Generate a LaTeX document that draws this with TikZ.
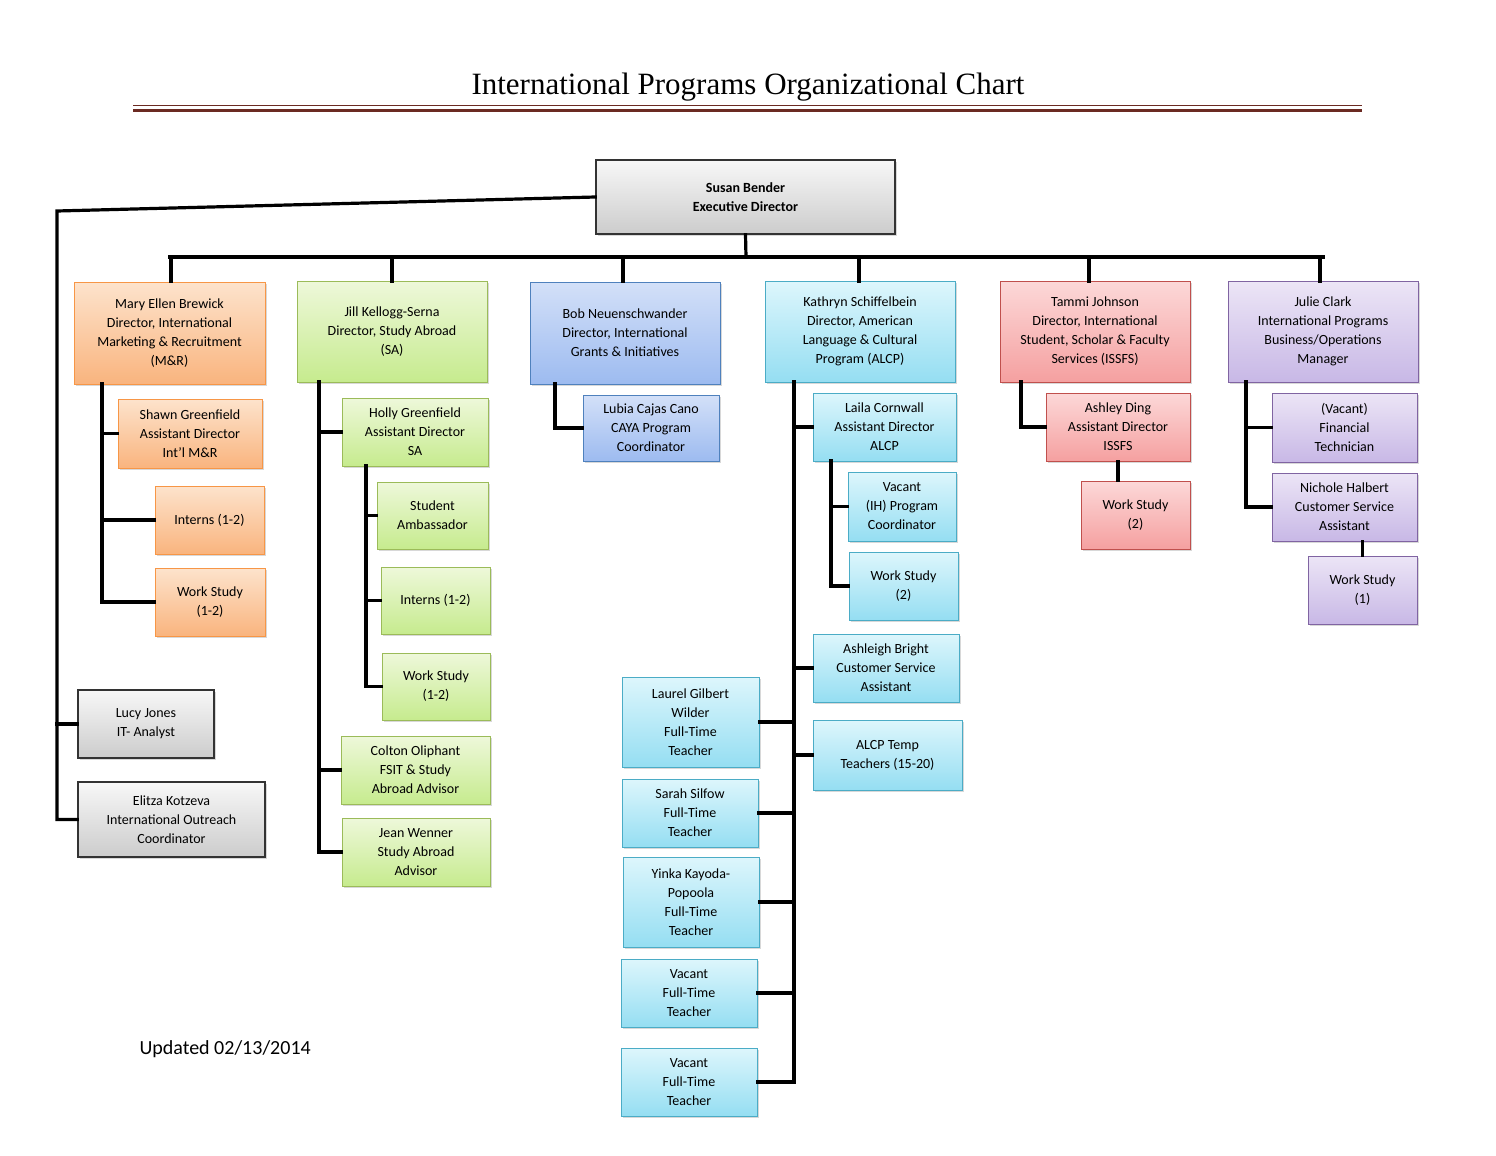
\documentclass[tikz,border=0pt]{standalone}
\usepackage{fontspec}
\setmainfont{Carlito}
\newfontfamily\titlefont{Liberation Serif}
\usetikzlibrary{shadows}
\definecolor{rule}{HTML}{6B2A22}
\definecolor{ogT}{HTML}{FDE3CC}\definecolor{ogB}{HTML}{F9B47E}\definecolor{ogD}{HTML}{F79646}
\definecolor{gnT}{HTML}{EEF8DA}\definecolor{gnB}{HTML}{C6EB8E}\definecolor{gnD}{HTML}{9BBB59}
\definecolor{blT}{HTML}{D3E0F8}\definecolor{blB}{HTML}{9DBBF0}\definecolor{blD}{HTML}{4F81BD}
\definecolor{cyT}{HTML}{DDF6FC}\definecolor{cyB}{HTML}{95DEF2}\definecolor{cyD}{HTML}{4BACC6}
\definecolor{rdT}{HTML}{FCD8D8}\definecolor{rdB}{HTML}{F5A0A0}\definecolor{rdD}{HTML}{C0504D}
\definecolor{puT}{HTML}{ECE5F6}\definecolor{puB}{HTML}{C8B8E6}\definecolor{puD}{HTML}{8064A2}
\tikzset{
 x=1pt,y=-1pt,
 base/.style={draw, line width=0.9pt, inner sep=0pt, align=center, font=\fontsize{14}{19}\selectfont, drop shadow={shadow xshift=2pt,shadow yshift=-2pt,opacity=0.3}},
 og/.style={base, draw=ogD, top color=ogT, bottom color=ogB},
 gn/.style={base, draw=gnD, top color=gnT, bottom color=gnB},
 bl/.style={base, draw=blD, top color=blT, bottom color=blB},
 cy/.style={base, draw=cyD, top color=cyT, bottom color=cyB},
 rd/.style={base, draw=rdD, top color=rdT, bottom color=rdB},
 pu/.style={base, draw=puD, top color=puT, bottom color=puB},
 gy/.style={base, draw=black!80, line width=1.3pt, top color=gray!6, bottom color=gray!40},
 ln/.style={line width=3.2pt, line cap=rect},
}
\newcommand\bx[7]{\node[#2, minimum width={(#5-#3)*1pt}, minimum height={(#6-#4)*1pt}] (#1) at ({(#3+#5)/2},{(#4+#6)/2}) {#7};}
\begin{document}
\begin{tikzpicture}
\useasboundingbox (0,0) rectangle (1496,1156);
\fill[white] (0,0) rectangle (1496,1156);
\node[font=\titlefont\fontsize{31}{36}\selectfont] (title) at (748,87) {International Programs Organizational Chart};
\draw[rule, line width=1pt] (133,105.5) -- (1362,105.5);
\draw[rule, line width=3.5pt] (133,110.5) -- (1362,110.5);
\node[anchor=west, font=\fontsize{20}{22}\selectfont] (upd) at (136,1049) {Updated 02/13/2014};

% top
\bx{susan}{gy}{596}{160}{895}{234}{\textbf{Susan Bender}\\\textbf{Executive Director}}
\bx{mary}{og}{74}{282}{265}{384}{Mary Ellen Brewick\\Director, International\\Marketing \& Recruitment\\(M\&R)}
\bx{jill}{gn}{297}{281}{487}{382}{Jill Kellogg-Serna\\Director, Study Abroad\\(SA)}
\bx{bob}{bl}{530}{282}{720}{384}{Bob Neuenschwander\\Director, International\\Grants \& Initiatives}
\bx{kath}{cy}{765}{281}{955}{382}{Kathryn Schiffelbein\\Director, American\\Language \& Cultural\\Program (ALCP)}
\bx{tammi}{rd}{1000}{281}{1190}{382}{Tammi Johnson\\Director, International\\Student, Scholar \& Faculty\\Services (ISSFS)}
\bx{julie}{pu}{1228}{281}{1418}{382}{Julie Clark\\International Programs\\Business/Operations\\Manager}

\coordinate (bus) at (746,257);
\draw[ln] (susan.south) -- (bus);
\draw[ln] (mary.north |- bus) -- (julie.north |- bus);
\foreach \n/\xx in {mary/171,jill/392,bob/623,kath/859,tammi/1089,julie/1320}
  \draw[ln] (\xx,257) -- (\xx,281);

% left gray
\bx{lucy}{gy}{78}{690}{214}{758}{Lucy Jones\\IT- Analyst}
\bx{elitza}{gy}{78}{782}{265}{857}{Elitza Kotzeva\\International Outreach\\Coordinator}
\coordinate (lt) at (57,211);
\draw[ln] (susan.west) -- (lt) -- (elitza.west -| lt) -- (elitza.west);
\draw[ln] (lucy.west -| lt) -- (lucy.west);

% orange
\bx{shawn}{og}{118}{399}{262}{468}{Shawn Greenfield\\Assistant Director\\Int’l M\&R}
\bx{mint}{og}{155}{486}{264}{554}{Interns (1-2)}
\bx{mws}{og}{155}{568}{265}{636}{Work Study\\(1-2)}
\coordinate (mt) at (102,384);
\draw[ln] (mt) -- (mws.west -| mt) -- (mws.west);
\draw[ln] (shawn.west -| mt) -- (shawn.west);
\draw[ln] (mint.west -| mt) -- (mint.west);

% green
\bx{holly}{gn}{342}{398}{488}{466}{Holly Greenfield\\Assistant Director\\SA}
\bx{colton}{gn}{341}{736}{490}{804}{Colton Oliphant\\FSIT \& Study\\Abroad Advisor}
\bx{jean}{gn}{342}{818}{490}{886}{Jean Wenner\\Study Abroad\\Advisor}
\bx{stud}{gn}{377}{482}{488}{549}{Student\\Ambassador}
\bx{gint}{gn}{381}{567}{490}{634}{Interns (1-2)}
\bx{gws}{gn}{382}{653}{490}{720}{Work Study\\(1-2)}
\coordinate (jt) at (319,382);
\draw[ln] (jt) -- (jean.west -| jt) -- (jean.west);
\draw[ln] (holly.west -| jt) -- (holly.west);
\draw[ln] (colton.west -| jt) -- (colton.west);
\coordinate (ht) at (366,466);
\draw[ln] (ht) -- (gws.west -| ht) -- (gws.west);
\draw[ln] (stud.west -| ht) -- (stud.west);
\draw[ln] (gint.west -| ht) -- (gint.west);

% blue
\bx{lubia}{bl}{583}{395}{719}{461}{Lubia Cajas Cano\\CAYA Program\\Coordinator}
\coordinate (bt) at (555,384);
\draw[ln] (bt) -- (lubia.west -| bt) -- (lubia.west);

% cyan
\bx{laila}{cy}{813}{393}{956}{461}{Laila Cornwall\\Assistant Director\\ALCP}
\bx{ashb}{cy}{813}{634}{959}{702}{Ashleigh Bright\\Customer Service\\Assistant}
\bx{temp}{cy}{813}{720}{962}{790}{ALCP Temp\\Teachers (15-20)}
\bx{cvac}{cy}{848}{472}{956}{541}{Vacant\\(IH) Program\\Coordinator}
\bx{cws}{cy}{849}{552}{958}{620}{Work Study\\(2)}
\bx{laurel}{cy}{622}{677}{759}{767}{Laurel Gilbert\\Wilder\\Full-Time\\Teacher}
\bx{sarah}{cy}{622}{779}{758}{847}{Sarah Silfow\\Full-Time\\Teacher}
\bx{yinka}{cy}{623}{857}{759}{947}{Yinka Kayoda-\\Popoola\\Full-Time\\Teacher}
\bx{vac1}{cy}{621}{959}{757}{1027}{Vacant\\Full-Time\\Teacher}
\bx{vac2}{cy}{621}{1048}{757}{1116}{Vacant\\Full-Time\\Teacher}
\coordinate (kt) at (794,382);
\draw[ln] (kt) -- (vac2.east -| kt) -- (vac2.east);
\foreach \n in {laila,ashb,temp} \draw[ln] (\n.west -| kt) -- (\n.west);
\foreach \n in {laurel,sarah,yinka,vac1} \draw[ln] (\n.east -| kt) -- (\n.east);
\coordinate (lt2) at (831,461);
\draw[ln] (lt2) -- (cws.west -| lt2) -- (cws.west);
\draw[ln] (cvac.west -| lt2) -- (cvac.west);

% red
\bx{ashd}{rd}{1046}{393}{1190}{461}{Ashley Ding\\Assistant Director\\ISSFS}
\bx{rws}{rd}{1081}{481}{1190}{549}{Work Study\\(2)}
\coordinate (tt) at (1021,382);
\draw[ln] (tt) -- (ashd.west -| tt) -- (ashd.west);
\draw[ln] (ashd.south) -- (rws.north -| ashd.south);

% purple
\bx{pvac}{pu}{1272}{393}{1417}{462}{(Vacant)\\Financial\\Technician}
\bx{nich}{pu}{1272}{473}{1417}{541}{Nichole Halbert\\Customer Service\\Assistant}
\bx{pws}{pu}{1308}{556}{1417}{624}{Work Study\\(1)}
\coordinate (pt) at (1246,382);
\draw[ln] (pt) -- (nich.west -| pt) -- (nich.west);
\draw[ln] (pvac.west -| pt) -- (pvac.west);
\draw[ln] (nich.south -| pws.north) -- (pws.north);
\end{tikzpicture}
\end{document}
